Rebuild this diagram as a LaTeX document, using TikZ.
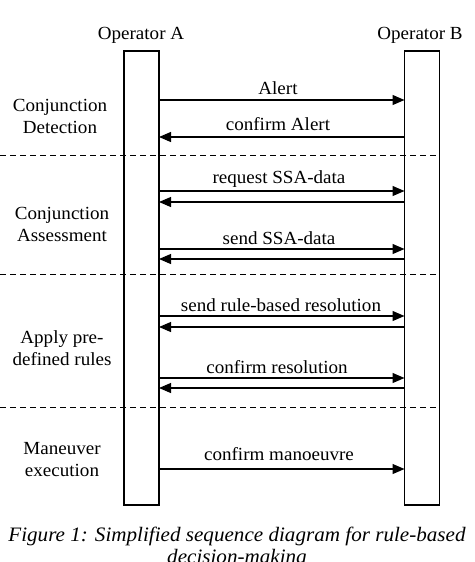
\documentclass[tikz,border=0pt]{standalone}
\usepackage{fontspec}
\setmainfont{Liberation Serif}[FakeStretch=1.03]
\usetikzlibrary{arrows.meta}
\begin{document}
\begin{tikzpicture}[x=1pt,y=-1pt,
  every node/.style={font=\fontsize{18.5}{22}\selectfont, inner sep=0pt, outer sep=0pt},
  life/.style={draw, line width=1.1pt, fill=white, minimum width=35pt, inner sep=0pt},
  msg/.style={line width=1.1pt, -{Triangle[length=12pt,width=10pt]}},
  sep/.style={line width=0.9pt, dash pattern=on 6pt off 4pt},
  phase/.style={align=center},
  lbl/.style={anchor=base},
  captext/.style={anchor=base, font=\fontsize{20.5}{23}\selectfont\itshape}]
\useasboundingbox (0,0) rectangle (474,562);
\fill[white] (0,0) rectangle (474,562);
% separators
\coordinate (s1l) at (0,155); \coordinate (s1r) at (439,155);
\coordinate (s2l) at (0,274); \coordinate (s2r) at (439,274);
\coordinate (s3l) at (0,407); \coordinate (s3r) at (439,407);
% lifelines
\node[life, minimum height=454pt] (A) at (141.5,278) {};
\node[life, minimum height=454pt] (B) at (422,278) {};
\draw[sep] (s1l) -- (s1r);
\draw[sep] (s2l) -- (s2r);
\draw[sep] (s3l) -- (s3r);
\draw[line width=1.1pt] (A.north west) rectangle (A.south east);
\draw[line width=1.1pt] (B.north west) rectangle (B.south east);
\node[lbl] (opA) at (141,39) {Operator A};
\node[lbl] (opB) at (420,39) {Operator B};
% phases
\node[phase] (p1) at (60,116) {Conjunction\\Detection};
\node[phase] (p2) at (62,224) {Conjunction\\Assessment};
\node[phase] (p3) at (62,348) {Apply pre-\\defined rules};
\node[phase] (p4) at (62,460) {Maneuver\\execution};
% messages
\draw[msg] (A.east|-0,100) -- (B.west|-0,100);
\node[lbl] (m1) at (278,94) {Alert};
\draw[msg] (B.west|-0,137) -- (A.east|-0,137);
\node[lbl] (m2) at (278,130) {confirm Alert};
\draw[msg] (A.east|-0,191) -- (B.west|-0,191);
\node[lbl] (m3) at (279,183) {request SSA-data};
\draw[msg] (B.west|-0,202) -- (A.east|-0,202);
\draw[msg] (A.east|-0,249) -- (B.west|-0,249);
\node[lbl] (m4) at (279,244) {send SSA-data};
\draw[msg] (B.west|-0,259) -- (A.east|-0,259);
\draw[msg] (A.east|-0,316) -- (B.west|-0,316);
\node[lbl] (m5) at (281,311) {send rule-based resolution};
\draw[msg] (B.west|-0,327) -- (A.east|-0,327);
\draw[msg] (A.east|-0,378) -- (B.west|-0,378);
\node[lbl] (m6) at (277,373) {confirm resolution};
\draw[msg] (B.west|-0,388) -- (A.east|-0,388);
\draw[msg] (A.east|-0,469) -- (B.west|-0,469);
\node[lbl] (m7) at (279,460) {confirm manoeuvre};
% caption
\node[captext] (cap1) at (237,541) {Figure 1: Simplified sequence diagram for rule-based};
\node[captext] (cap2) at (237,563) {decision-making};
\end{tikzpicture}
\end{document}
